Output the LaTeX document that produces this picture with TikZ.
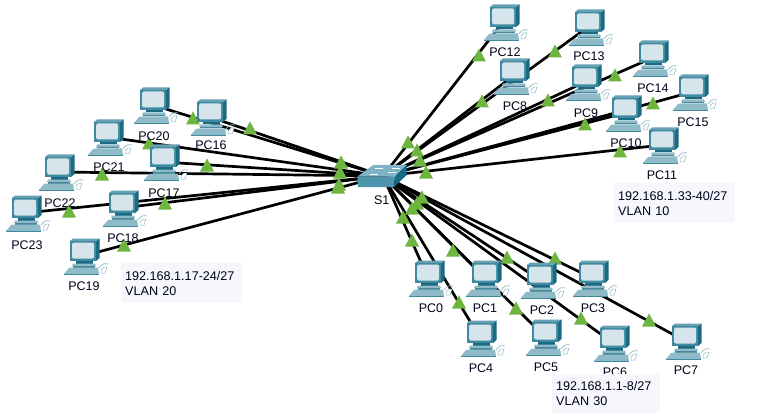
\documentclass[tikz,border=0pt]{standalone}
\usepackage{fontspec}
\setmainfont{Liberation Sans}
\definecolor{pcTeal}{HTML}{3F8AA0}
\definecolor{pcDark}{HTML}{1C6A82}
\definecolor{pcScreen}{HTML}{D6E5EB}
\definecolor{pcLight}{HTML}{8FBAC8}
\definecolor{linkGreen}{HTML}{6DB53F}
\definecolor{noteBg}{HTML}{F5F7FD}
\definecolor{swTop}{HTML}{7FB3C6}
\definecolor{swFront}{HTML}{4E95AE}
\definecolor{swSide}{HTML}{156C86}
\tikzset{
  x=1pt,y=-1pt,
  linkline/.style={line width=2.7pt,black},
  pclabel/.style={font=\fontsize{12.5}{12.5}\selectfont,text=black!90!blue,inner sep=0pt},
  notebox/.style={fill=noteBg,draw=none,font=\fontsize{12.6}{15}\selectfont,align=left,text=black!90!blue,anchor=north west,inner sep=0pt},
  pcicon/.pic={
    \fill[pcDark] (13,-10)--(16.5,-12.5)--(16.5,7)--(13,10)--cycle;
    \fill[pcTeal!80!white] (-13,-10)--(-10,-12.5)--(16.5,-12.5)--(13,-10)--cycle;
    \fill[pcTeal] (-13,-10) rectangle (13,10);
    \fill[pcScreen,rounded corners=1.5pt] (-11,-8.5) rectangle (11,7.5);
    \fill[pcDark] (-7,10) rectangle (10,12.5);
    \fill[pcLight] (-10,12.5)--(12,12.5)--(13,15)--(-11,15)--cycle;
    \fill[pcDark!80!white] (-10,15) rectangle (12,16.5);
    \fill[pcLight] (-14,17)--(-11,16.5)--(15,16.5)--(16,23)--(-19,23)--cycle;
    \fill[pcTeal] (-19,23) rectangle (16,24);
    \draw[pcLight,line width=.7pt] (16,17) .. controls (19,13) and (21,12) .. (25,13);
    \fill[white,draw=pcLight,line width=.5pt] (18,19)--(21,16)--(24,16)--(22,22)--(18,22)--cycle;
  }
}
\begin{document}
\begin{tikzpicture}
\useasboundingbox (0,0) rectangle (763,417);
\fill[white] (0,0) rectangle (763,417);
\coordinate (S1c) at (383,176);
% PC anchors
\foreach \n/\x/\y in {PC0/428/273,PC1/485/273,PC2/540/275,PC3/592/273,PC4/480/333,PC5/545/332,PC6/613/338,PC7/685/336,
 PC8/513/71,PC9/585/77,PC10/625/108,PC11/662/140,PC12/503/17,PC13/588/22,PC14/652/53,PC15/692/87,
 PC16/210/112,PC17/163/157,PC18/122/203,PC19/83/251,PC20/153/100,PC21/107/132,PC22/58/167,PC23/25/208}
  {\coordinate (\n) at (\x,\y);
   \coordinate (\n port) at (\x,\y+5);}
% links
\foreach \n in {PC0,PC1,PC2,PC3,PC4,PC5,PC6,PC7,PC8,PC9,PC10,PC11,PC12,PC13,PC14,PC15,PC16,PC17,PC18,PC19,PC20,PC21,PC22,PC23}
  {\draw[linkline] (S1c) -- (\n port);}
% link lights
\foreach \x/\y in {193/118,250/128,149/143,207/165,102/174,165/203,69/211,124/245,
  341/162,340/172,339/184,338/187,
  479/55,555/51,615/75,653/103,482/101,548/100,585/124,620/151,
  408/142,417/150,420/160,426/172,
  412/240,453/250,507/257,555/258,459/302,516/308,581/318,649/320,
  422/197,417/203,412/208,403/217}
  {\fill[linkGreen] (\x-7,\y+6.5)--(\x,\y-6.5)--(\x+7,\y+6.5)--cycle;}
% switch
\fill[swTop] (357.3,176.7)--(373.3,165)--(406.7,165)--(395,176.7)--cycle;
\fill[swFront] (357.3,176.7)--(395,176.7)--(394,187)--(358,187)--cycle;
\fill[swSide] (395,176.7)--(406.7,165)--(406.7,175)--(394,187)--cycle;
\draw[white,line width=.8pt] (375,168)--(383,168) (392,168)--(400,168) (370,174)--(378,174) (388,172)--(396,172);
\node[pclabel] (S1) at (381.7,200) {S1};
% PC icons and labels
\foreach \n/\x/\y in {PC12/505/52,PC13/589/56,PC14/653/88,PC15/693/122,PC8/515/106,PC9/586/113,PC10/626/143,PC11/662/175,
 PC20/154/136,PC16/211/145,PC21/109/167,PC17/164/193,PC22/60/203,PC18/123/238,PC23/27/245,PC19/84/286,
 PC0/431/308,PC1/485/308,PC2/542/310,PC3/593/308,PC4/481/368,PC5/546/367,PC6/615/372,PC7/686/370}
 {\pic at (\n) {pcicon};
  \node[pclabel] (\n label) at (\x,\y) {\n};}
% notes
\node[notebox,minimum width=119pt,minimum height=40pt,text width=113pt,inner xsep=4pt] (note20) at (121,263) {192.168.1.17-24/27\\VLAN 20};
\node[notebox,minimum width=119pt,minimum height=40pt,text width=113pt,inner xsep=4pt] (note10) at (614,183) {192.168.1.33-40/27\\VLAN 10};
\node[notebox,minimum width=105pt,minimum height=39pt,text width=100pt,inner xsep=4pt] (note30) at (552,374) {192.168.1.1-8/27\\VLAN 30};
\end{tikzpicture}
\end{document}
